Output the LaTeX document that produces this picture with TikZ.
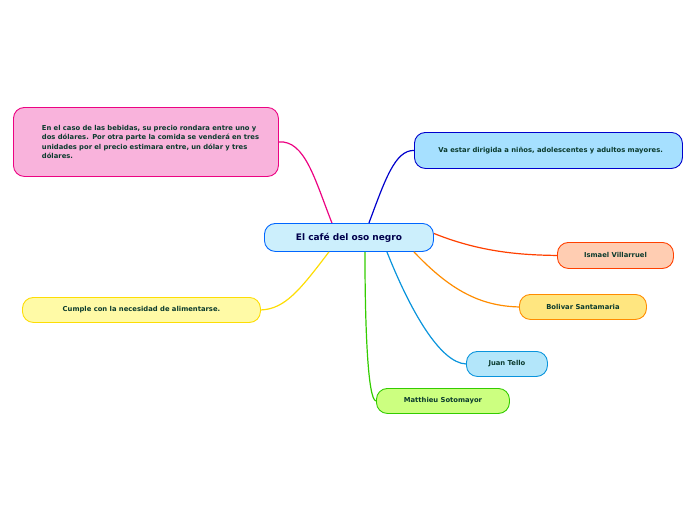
\documentclass[tikz,border=0pt]{standalone}
\usepackage{fontspec}
\setmainfont{DejaVu Sans}
\begin{document}
\begin{tikzpicture}[x=1pt,y=-1pt,
 box/.style={draw,rounded corners=11pt,line width=0.9pt,font=\bfseries\fontsize{6.8}{9.5}\selectfont,text=black!60!green!40!black,inner sep=0pt,anchor=north west},
 con/.style={line width=1.2pt}]
\useasboundingbox (0,0) rectangle (696,520);
\definecolor{tx}{HTML}{0B3B2E}
\node[box,draw=blue!60!cyan,fill=cyan!20,minimum width=169,minimum height=28,font=\bfseries\fontsize{9}{11}\selectfont,text=blue!30!black] (c) at (264,223) {El café del oso negro};
\node[box,draw=magenta!90!red,fill=magenta!30,minimum width=265,minimum height=69,text=tx,align=left,text width=246,inner xsep=0pt] (p) at (13,107) {\hspace*{19pt}\parbox{230pt}{En el caso de las bebidas, su precio rondara entre uno y dos dólares. Por otra parte la comida se venderá en tres unidades por el precio estimara entre, un dólar y tres dólares.}};
\node[box,draw=blue!80!black,fill=blue!35!cyan!35,minimum width=268,minimum height=36,text=tx] (b) at (414,132) {\hspace*{20pt}\parbox{240pt}{Va estar dirigida a niños, adolescentes y adultos mayores.}};
\node[box,draw=orange!50!red,fill=red!30!orange!30,minimum width=116,minimum height=26,text=tx] (i) at (557,242) {Ismael Villarruel};
\node[box,draw=orange!90!yellow,fill=orange!40!yellow!50,minimum width=127,minimum height=25,text=tx] (s) at (519,294) {Bolivar Santamaria};
\node[box,draw=cyan!80!blue,fill=cyan!30,minimum width=81,minimum height=25,text=tx] (j) at (466,351) {Juan Tello};
\node[box,draw=green!60!olive,fill=green!40!yellow!50,minimum width=133,minimum height=25,text=tx] (m) at (376,388) {Matthieu Sotomayor};
\node[box,draw=yellow!80!orange,fill=yellow!35,minimum width=238,minimum height=25,text=tx] (y) at (22,297) {Cumple con la necesidad de alimentarse.};
\draw[con,magenta!90!red] ([xshift=-17pt]c.north) .. controls (315,180) and (305,140) .. (p.east);
\draw[con,blue!80!black] ([xshift=20pt]c.north) .. controls (385,180) and (395,150) .. (b.west);
\draw[con,orange!50!red] ([yshift=4pt]c.east) .. controls (480,252) and (520,255) .. (i.west);
\draw[con,orange!90!yellow] ([xshift=65pt]c.south) .. controls (450,290) and (480,306) .. (s.west);
\draw[con,cyan!80!blue] ([xshift=38pt]c.south) .. controls (410,310) and (440,363) .. (j.west);
\draw[con,green!60!olive] ([xshift=16pt]c.south) .. controls (365,330) and (368,400) .. (m.west);
\draw[con,yellow!80!orange] ([xshift=-20pt]c.south) .. controls (300,290) and (285,309) .. (y.east);
\end{tikzpicture}
\end{document}
